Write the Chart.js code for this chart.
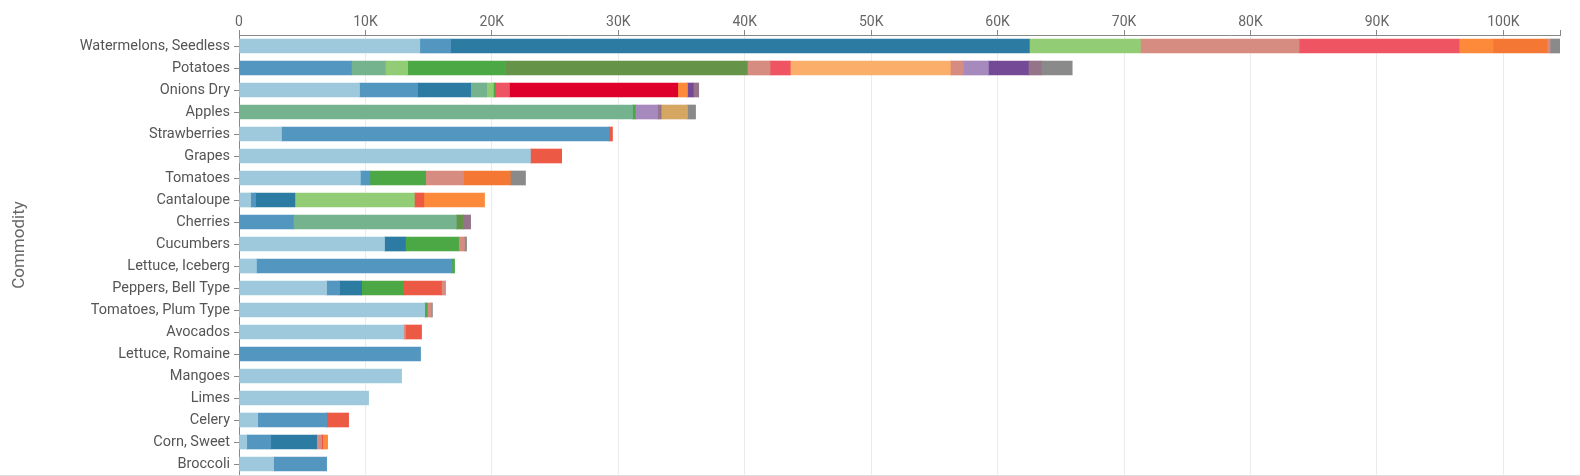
<!DOCTYPE html>
<html>
<head>
<meta charset="utf-8">
<title>Commodity</title>
<script src="https://cdn.jsdelivr.net/npm/chart.js@4.4.1/dist/chart.umd.min.js"></script>
<style>
    body { margin: 0; background: #fff; }
    #wrap { width: 1580px; height: 475px; border-bottom: 1px solid #dddddd; }
</style>
</head>
<body>
<div id="wrap"><canvas id="commodityChart" width="1580" height="475"></canvas></div>
<script>
// Kategorien (von oben nach unten)
const commodities = [
    'Watermelons, Seedless', 'Potatoes', 'Onions Dry', 'Apples', 'Strawberries',
    'Grapes', 'Tomatoes', 'Cantaloupe', 'Cherries', 'Cucumbers',
    'Lettuce, Iceberg', 'Peppers, Bell Type', 'Tomatoes, Plum Type', 'Avocados', 'Lettuce, Romaine',
    'Mangoes', 'Limes', 'Celery', 'Corn, Sweet', 'Broccoli'
];

// Segmente pro Farbe, in Stapel-Reihenfolge
const lightBlue   = [14300, 0, 9530, 0, 3360, 23050, 9600, 920, 0, 11510, 1380, 6930, 14680, 13020, 0, 12860, 10250, 1480, 610, 2740];
const midBlue     = [2440, 8900, 4600, 0, 25900, 0, 750, 390, 4310, 0, 15460, 1030, 60, 0, 14360, 0, 0, 5450, 1900, 4190];
const darkBlue    = [45770, 0, 4190, 0, 0, 0, 0, 3110, 0, 1660, 0, 1740, 0, 0, 0, 0, 0, 0, 3630, 0];
const tealGreen   = [0, 2680, 1270, 31130, 0, 0, 0, 0, 12880, 0, 0, 0, 0, 0, 0, 0, 0, 0, 0, 0];
const lightGreen  = [8780, 1760, 530, 0, 0, 0, 0, 9450, 0, 0, 0, 0, 0, 0, 0, 0, 0, 0, 0, 0];
const green       = [0, 7740, 180, 210, 0, 0, 4410, 0, 0, 4200, 210, 3300, 150, 0, 0, 0, 0, 60, 0, 0];
const olive       = [0, 19120, 0, 0, 0, 0, 0, 0, 560, 0, 0, 0, 0, 0, 0, 0, 0, 0, 0, 0];
const salmon      = [12560, 1800, 0, 0, 0, 0, 2990, 0, 0, 460, 0, 0, 320, 160, 0, 0, 0, 0, 400, 0];
const pinkRed     = [12650, 1600, 1090, 0, 0, 0, 0, 0, 0, 0, 0, 0, 0, 0, 0, 0, 0, 0, 0, 0];
const red         = [0, 0, 13310, 0, 0, 0, 0, 0, 0, 0, 0, 0, 0, 0, 0, 0, 0, 0, 0, 0];
const tomato      = [0, 0, 0, 0, 280, 2470, 0, 750, 0, 0, 0, 3020, 0, 1260, 0, 0, 0, 1680, 80, 0];
const orange      = [2680, 0, 770, 0, 0, 0, 0, 4800, 0, 0, 0, 0, 0, 0, 0, 0, 0, 0, 390, 0];
const darkOrange  = [4270, 0, 0, 0, 0, 0, 3710, 0, 0, 0, 0, 0, 0, 0, 0, 0, 0, 0, 0, 0];
const lightOrange = [0, 12660, 0, 0, 0, 0, 0, 0, 0, 0, 0, 0, 0, 0, 0, 0, 0, 0, 0, 0];
const salmon2     = [240, 1030, 0, 0, 0, 0, 0, 0, 0, 0, 0, 320, 0, 0, 0, 0, 0, 0, 0, 0];
const lightPurple = [0, 1980, 0, 1770, 0, 0, 0, 0, 0, 0, 0, 0, 0, 0, 0, 0, 0, 0, 0, 0];
const darkPurple  = [0, 3160, 460, 0, 0, 0, 0, 0, 0, 0, 0, 0, 0, 0, 0, 0, 0, 0, 0, 0];
const mauve       = [0, 1020, 430, 280, 0, 0, 0, 0, 570, 0, 0, 0, 0, 0, 0, 0, 0, 0, 0, 0];
const tan         = [0, 0, 0, 2080, 0, 0, 0, 0, 0, 0, 0, 0, 0, 0, 0, 0, 0, 0, 0, 0];
const gray        = [790, 2450, 0, 640, 0, 0, 1200, 0, 0, 170, 0, 0, 90, 0, 0, 0, 0, 0, 0, 0];

// Achsen-Ticks oben
const xTickValues = [0, 10000, 20000, 30000, 40000, 50000, 60000, 70000, 80000, 90000, 100000];
const xTickLabels = ['0', '10K', '20K', '30K', '40K', '50K', '60K', '70K', '80K', '90K', '100K'];
const yAxisTitle = 'Commodity';

// Reihenfolge + Farben
const series = [
    [lightBlue, '#9ec9dc'], [midBlue, '#5397c1'], [darkBlue, '#2c7ba3'],
    [tealGreen, '#74b38d'], [lightGreen, '#92cd76'], [green, '#4ca844'], [olive, '#659448'],
    [salmon, '#d68c80'], [pinkRed, '#ef5462'], [red, '#de002b'], [tomato, '#ec5a46'],
    [orange, '#fc8a3a'], [darkOrange, '#f47734'], [lightOrange, '#fbae6a'], [salmon2, '#d68c80'],
    [lightPurple, '#a68abd'], [darkPurple, '#744a96'], [mauve, '#957489'], [tan, '#d5a763'], [gray, '#8a8a8a']
];

// Summe pro Zeile -> Achsen-Maximum (Achse endet am laengsten Balken)
const totals = commodities.map((c, i) => series.reduce((s, [arr]) => s + arr[i], 0));
const xMax = Math.max(...totals);

// 0 -> null, damit keine leeren Balken gezeichnet werden
const datasets = series.map(([values, color], k) => ({
    label: 'Serie ' + (k + 1),
    data: values.map(v => v === 0 ? null : v),
    backgroundColor: color,
    borderWidth: 0,
    barThickness: 14
}));

const isLabeled = (v) => xTickValues.indexOf(v) > 0;

// Y-Achsentitel selbst zeichnen (sitzt etwas oberhalb der Mitte)
const yTitlePlugin = {
    id: 'yTitle',
    afterDraw(chart) {
        const { ctx, chartArea } = chart;
        ctx.save();
        ctx.translate(20, (chartArea.top + chartArea.bottom) / 2 - 10);
        ctx.rotate(-Math.PI / 2);
        ctx.font = '17px Roboto';
        ctx.fillStyle = '#666666';
        ctx.textAlign = 'center';
        ctx.textBaseline = 'middle';
        ctx.fillText(yAxisTitle, 0, 0);
        ctx.restore();
    }
};

new Chart(document.getElementById('commodityChart'), {
    type: 'bar',
    data: { labels: commodities, datasets: datasets },
    plugins: [yTitlePlugin],
    options: {
        indexAxis: 'y',
        responsive: false,
        animation: false,
        layout: { padding: { left: 0, right: 20, top: 0, bottom: 0 } },
        plugins: {
            legend: { display: false },
            tooltip: { enabled: false }
        },
        scales: {
            x: {
                position: 'top',
                stacked: true,
                min: 0,
                max: xMax,
                afterFit: (scale) => { scale.height = 35; },
                // feste Ticks + Endmarke am Maximum
                afterBuildTicks: (scale) => {
                    scale.ticks = xTickValues.map(v => ({ value: v })).concat([{ value: xMax }]);
                },
                border: { color: '#888888', width: 1 },
                grid: {
                    color: (ctx) => (ctx.tick && isLabeled(ctx.tick.value)) ? '#ebebeb' : 'rgba(0,0,0,0)',
                    tickColor: '#888888',
                    tickLength: 5
                },
                ticks: {
                    color: '#666666',
                    font: { family: 'Roboto', size: 14 },
                    padding: -1,
                    maxRotation: 0,
                    autoSkip: false,
                    callback: (v) => {
                        const i = xTickValues.indexOf(v);
                        return i < 0 ? '' : xTickLabels[i];
                    }
                }
            },
            y: {
                stacked: true,
                afterFit: (scale) => {
                    scale.width = 239;
                    // keine Zusatz-Abstaende oben/unten
                    scale.paddingTop = 0;
                    scale.paddingBottom = 0;
                },
                border: { color: '#888888', width: 1 },
                grid: {
                    offset: false,
                    drawOnChartArea: false,
                    tickColor: '#888888',
                    tickLength: 5
                },
                ticks: {
                    color: '#555555',
                    font: { family: 'Roboto', size: 14.5 },
                    padding: 4,
                    autoSkip: false
                }
            }
        }
    }
});
</script>
</body>
</html>
